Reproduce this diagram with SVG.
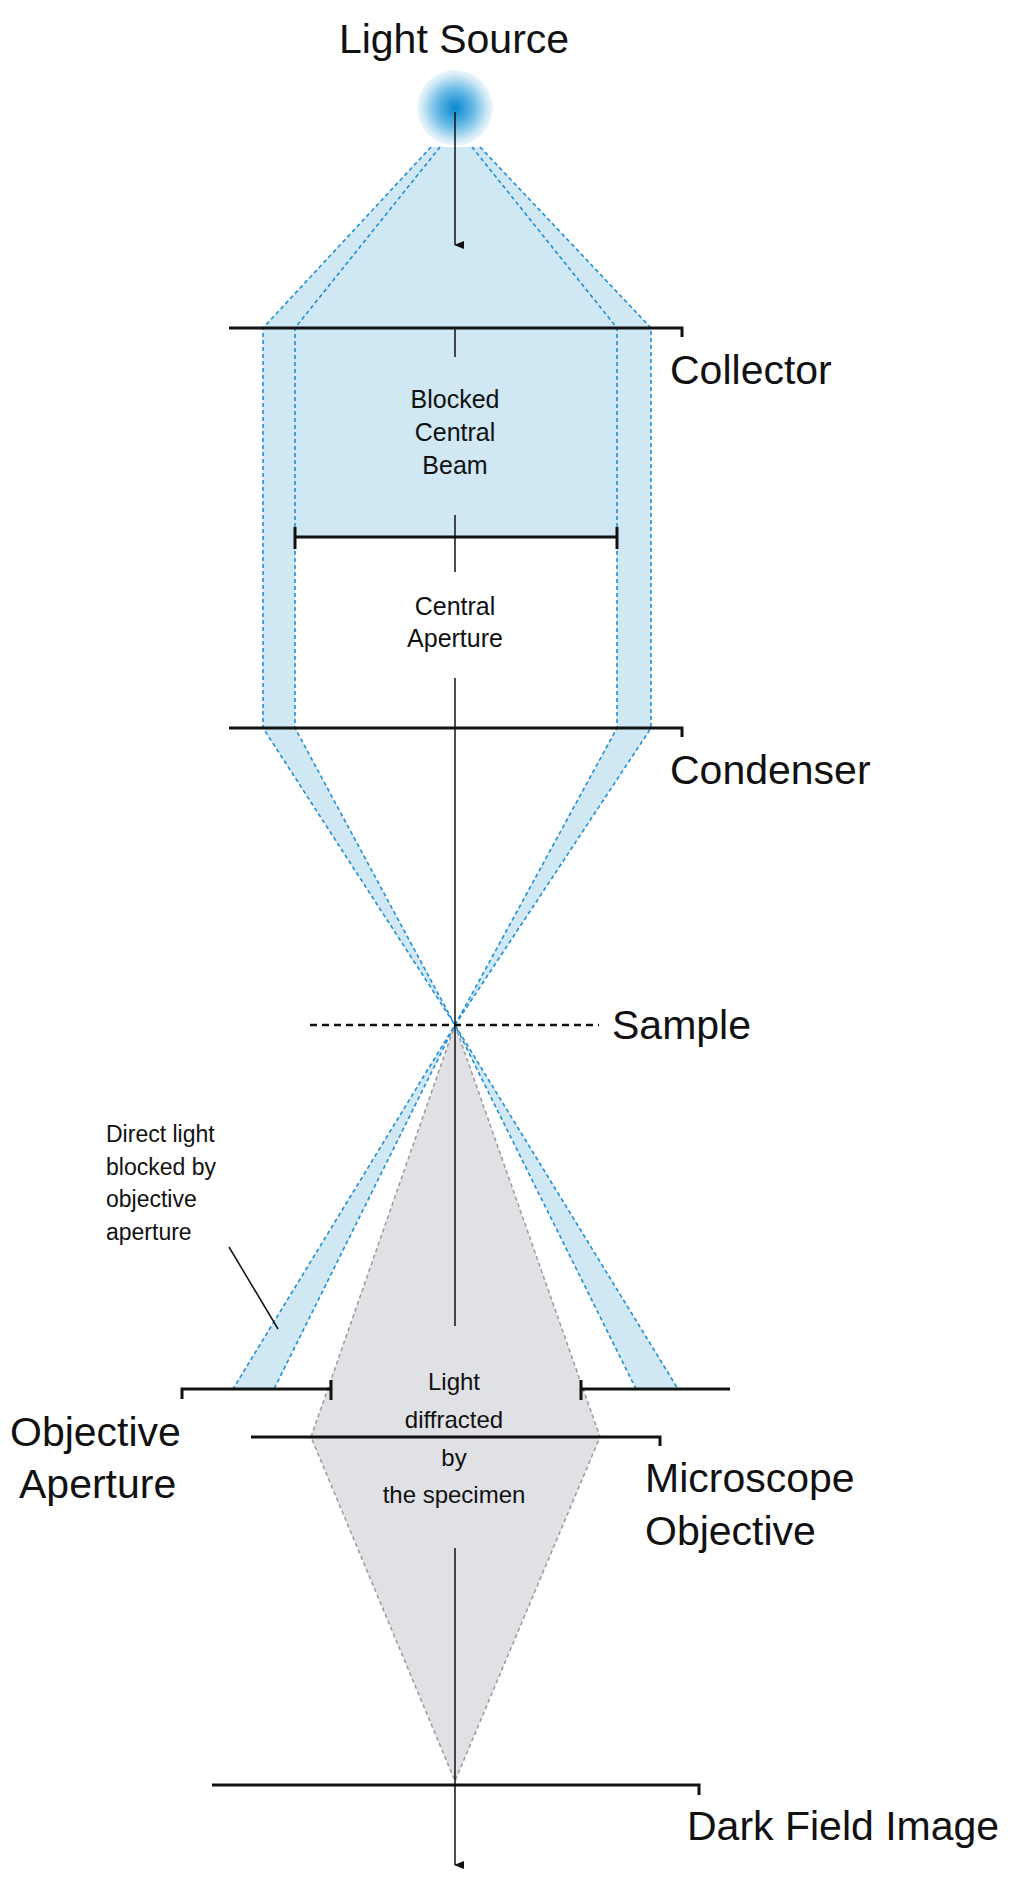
<svg xmlns="http://www.w3.org/2000/svg" width="1024" height="1887" viewBox="0 0 1024 1887">
<style>
text{font-family:"Liberation Sans",Arial,sans-serif;fill:#111}
.big{font-size:41px}
.sm{font-size:25px}
.ln{stroke:#111;stroke-width:3;fill:none}
.ax{stroke:#111;stroke-width:1.5;fill:none}
.band{fill:#cfe8f4;stroke:none}
.bd{stroke:#1e8fd6;stroke-width:1.6;stroke-dasharray:4 3;fill:none}
</style>
<defs>
<radialGradient id="glow" cx="0.5" cy="0.5" r="0.5">
<stop offset="0" stop-color="#0a86cf"/>
<stop offset="0.5" stop-color="#6bbbe6"/>
<stop offset="0.85" stop-color="#cfe8f6"/>
<stop offset="1" stop-color="#eef6fb"/>
</radialGradient>
<marker id="ar" markerWidth="10" markerHeight="10" refX="5" refY="9" orient="auto" markerUnits="userSpaceOnUse" viewBox="0 0 10 10"><path d="M1,0 L9,0 L5,10 Z" fill="#111" transform="rotate(0)"/></marker>
</defs>
<g id="beams">
<polygon class="band" points="431,147 480,147 651,328 651,728 617,728 617,537 295,537 295,728 263,728 263,328"/>
<polygon class="band" points="263,728 295,728 455,1025"/>
<polygon class="band" points="617,728 651,728 455,1025"/>
<polygon class="band" points="455,1025 233,1389 274,1389"/>
<polygon class="band" points="455,1025 636,1389 678,1389"/>
<polygon points="455,1025 600,1437 455,1781 311,1437" fill="#e0e1e5" stroke="#9a9a9a" stroke-width="1.5" stroke-dasharray="4 3"/>
<polyline class="bd" points="431,147 263,328 263,728 455,1025 678,1389"/>
<polyline class="bd" points="440,147 295,328 295,728 455,1025 636,1389"/>
<polyline class="bd" points="480,147 651,328 651,728 455,1025 233,1389"/>
<polyline class="bd" points="472,147 617,328 617,728 455,1025 274,1389"/>
</g>
<g id="source"><circle cx="455" cy="108" r="38" fill="url(#glow)"/><text class="big" x="454" y="53" text-anchor="middle">Light Source</text></g>
<g id="connectors">
<line class="ax" x1="455" y1="112" x2="455" y2="245" marker-end="url(#ar)"/>
<line class="ax" x1="455" y1="328" x2="455" y2="357"/>
<line class="ax" x1="455" y1="515" x2="455" y2="572"/>
<line class="ax" x1="455" y1="678" x2="455" y2="1326"/>
<line class="ax" x1="455" y1="1548" x2="455" y2="1865" marker-end="url(#ar)"/>
<line class="ax" x1="229" y1="1247" x2="278" y2="1329"/>
</g>
<g id="collector"><polyline class="ln" points="229,328 682,328 682,337"/><text class="big" x="670" y="384">Collector</text></g>
<g id="blocked"><text class="sm" text-anchor="middle" x="455"><tspan x="455" y="408">Blocked</tspan><tspan x="455" y="441">Central</tspan><tspan x="455" y="474">Beam</tspan></text></g>
<g id="aperture"><line class="ln" x1="295" y1="537" x2="617" y2="537"/><line class="ln" x1="295" y1="527" x2="295" y2="549"/><line class="ln" x1="617" y1="527" x2="617" y2="549"/>
<text class="sm" text-anchor="middle"><tspan x="455" y="615">Central</tspan><tspan x="455" y="647">Aperture</tspan></text></g>
<g id="condenser"><polyline class="ln" points="229,728 682,728 682,737"/><text class="big" x="670" y="784">Condenser</text></g>
<g id="sample"><line x1="310" y1="1025" x2="599" y2="1025" stroke="#111" stroke-width="2.5" stroke-dasharray="7 5"/><text class="big" x="612" y="1039">Sample</text></g>
<g id="direct"><text class="sm" style="font-size:23px"><tspan x="106" y="1142">Direct light</tspan><tspan x="106" y="1175">blocked by</tspan><tspan x="106" y="1207">objective</tspan><tspan x="106" y="1240">aperture</tspan></text></g>
<g id="objap"><polyline class="ln" points="182,1399 182,1389 331,1389"/><line class="ln" x1="331" y1="1380" x2="331" y2="1400"/>
<line class="ln" x1="581" y1="1389" x2="730" y2="1389"/><line class="ln" x1="581" y1="1380" x2="581" y2="1400"/>
<text class="big"><tspan x="10" y="1446">Objective</tspan><tspan x="19" y="1498">Aperture</tspan></text></g>
<g id="objective"><polyline class="ln" points="251,1437 660,1437 660,1446"/><text class="big"><tspan x="645" y="1492">Microscope</tspan><tspan x="645" y="1545">Objective</tspan></text></g>
<g id="diffracted"><text class="sm" text-anchor="middle" style="font-size:24px"><tspan x="454" y="1390">Light</tspan><tspan x="454" y="1428">diffracted</tspan><tspan x="454" y="1466">by</tspan><tspan x="454" y="1503">the specimen</tspan></text></g>
<g id="image"><polyline class="ln" points="212,1785 699,1785 699,1795"/><text class="big" x="687" y="1840">Dark Field Image</text></g>
</svg>
